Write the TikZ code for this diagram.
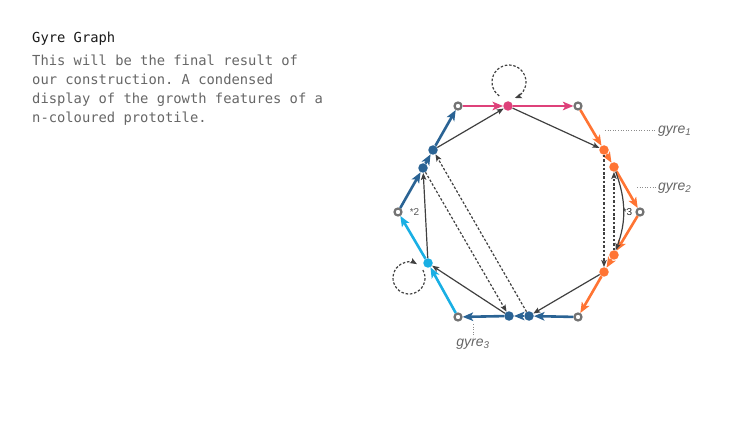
\documentclass[tikz,border=0pt]{standalone}
\usepackage{fontspec}
\newfontfamily\monofont{DejaVu Sans Mono}
\newfontfamily\labelfont{Liberation Sans}
\usetikzlibrary{arrows.meta, positioning, calc, graphs}
\definecolor{gyrepink}{HTML}{DE417A}
\definecolor{gyreorange}{HTML}{FF7433}
\definecolor{gyreblue}{HTML}{2A6394}
\definecolor{gyrecyan}{HTML}{19AFE4}
\frenchspacing
\tikzset{
hollow/.style={%
    circle, inner sep=0pt, minimum size=7pt,
    line width=2.2pt, draw=black!55, fill=white
},
fdot/.style={circle, inner sep=0pt, minimum size=9.5pt, fill=#1},
colored/.style={line width=2.6pt, draw=#1, -{Stealth[length=10.5pt,width=8.5pt,inset=2.5pt]}},
pinkedge/.style={colored=gyrepink},
orangeedge/.style={colored=gyreorange},
blueedge/.style={colored=gyreblue},
cyanedge/.style={colored=gyrecyan},
darkline/.style={line width=1.2pt, draw=black!75, -{Stealth[length=7pt,width=5.5pt,inset=1.5pt]}},
dashline/.style={darkline, dash pattern=on 2.5pt off 1.8pt},
mult/.style={inner sep=0pt, font=\labelfont\fontsize{10}{10}\selectfont, text=black!85},
gyre/.style={inner sep=2pt, font=\labelfont\itshape\fontsize{14}{14}\selectfont, text=black!60},
leader/.style={draw=black!45, line width=0.6pt, dotted},
}

\begin{document}
\begin{tikzpicture}[x=1pt, y=-1pt]
\useasboundingbox (0,0) rectangle (750,422);

% text block
\node[anchor=base west, inner sep=0pt, font=\monofont\fontsize{13.8}{19}\selectfont, text=black!90] (title) at (32,42.7) {Gyre Graph};
\node[anchor=north west, inner sep=0pt, align=left, font=\monofont\fontsize{13.8}{19}\selectfont, text=black!60] (blurb) at (32,54.5) {This will be the final result of\\our construction. A condensed\\display of the growth features of a\\n-coloured prototile.};

% hexagon corners
\node[hollow] (h1) at (458,106) {};
\node[hollow] (h2) at (578,106) {};
\node[hollow] (h3) at (640,212) {};
\node[hollow] (h4) at (578,317) {};
\node[hollow] (h5) at (458,317) {};
\node[hollow] (h6) at (398,212) {};

% points on the sides
\node[fdot=gyrepink] (m1) at (508,106) {};
\node[fdot=gyreorange] (o1) at (604,150) {};
\node[fdot=gyreorange] (o2) at (614,167) {};
\node[fdot=gyreorange] (o3) at (614,255) {};
\node[fdot=gyreorange] (o4) at (604,272) {};
\node[fdot=gyreblue] (b1) at (529,316) {};
\node[fdot=gyreblue] (b2) at (509,316) {};
\node[fdot=gyrecyan] (c1) at (428,263) {};
\node[fdot=gyreblue] (b3) at (423,168) {};
\node[fdot=gyreblue] (b4) at (433,150) {};

\node[mult, left=3pt of h3] (h3mult) {*3};
\node[mult, right=7pt of h6, text=black!65] (h6mult) {*2};

\graph [use existing nodes] {
h1 ->[pinkedge] m1 ->[pinkedge] h2;
h2 ->[orangeedge] o1 ->[orangeedge] o2 ->[orangeedge] h3;
h3 ->[orangeedge] o3 ->[orangeedge] o4 ->[orangeedge] h4;
h4 ->[blueedge] b1 ->[blueedge] b2 ->[blueedge] h5;
h5 ->[cyanedge] c1 ->[cyanedge] h6;
h6 ->[blueedge] b3 ->[blueedge] b4 ->[blueedge] h1;
b4 ->[darkline] m1 ->[darkline] o1;
o2 ->[darkline, bend left=20] o3;
o4 ->[darkline] b1;
b2 ->[darkline] c1 ->[darkline] b3;
o1 ->[dashline] o4;
o3 ->[dashline] o2;
b3 ->[dashline] b2;
b1 ->[dashline] b4;
};

% loops
\coordinate (m1loop) at (509,82);
\coordinate (c1loop) at (409,278);
\draw[dashline] ([shift={(125:17)}]m1loop) arc[start angle=125, end angle=430, radius=17];
\draw[dashline] ([shift={(-30:16)}]c1loop) arc[start angle=-30, end angle=300, radius=16];

% gyre labels
\node[gyre, anchor=west] (g1) at (656,131) {gyre\textsubscript{1}};
\node[gyre, anchor=west] (g2) at (656,188) {gyre\textsubscript{2}};
\node[gyre, anchor=north] (g3) at (473,337) {gyre\textsubscript{3}};
\coordinate (g1lead) at (605,130);
\coordinate (g2lead) at (637,187);
\coordinate (g3lead) at (473,324);
\draw[leader] (g1lead) -- (g1.west |- g1lead);
\draw[leader] (g2lead) -- (g2.west |- g2lead);
\draw[leader] (g3lead) -- (g3.north);

\end{tikzpicture}
\end{document}
